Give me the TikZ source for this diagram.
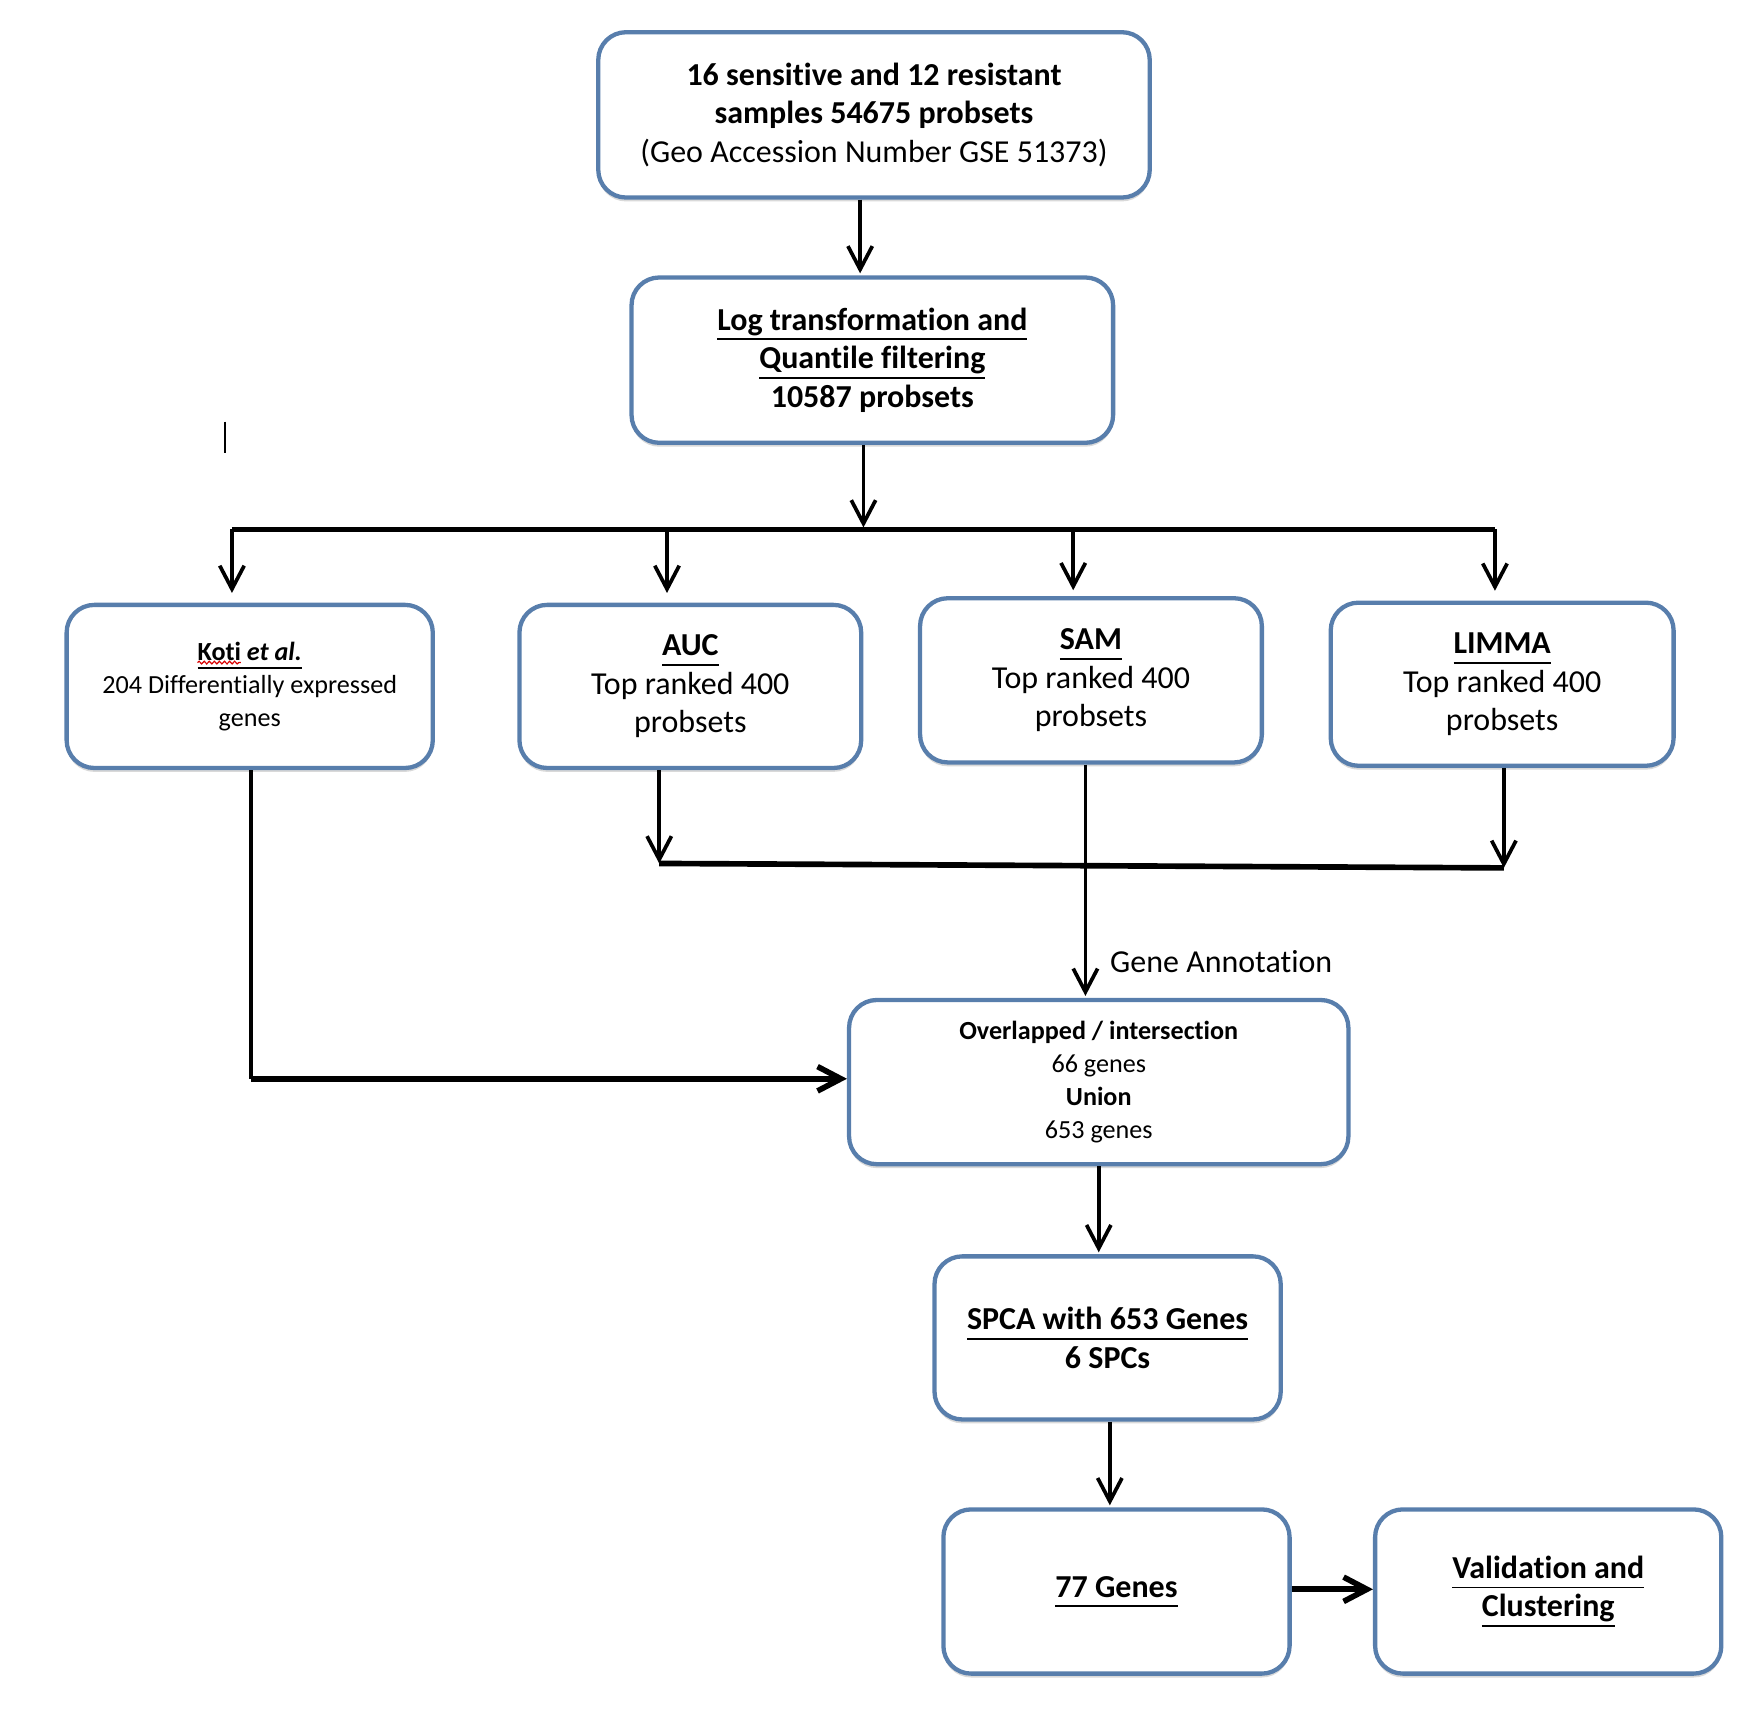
\documentclass[tikz,border=0pt]{standalone}
\usepackage{fontspec}
\setmainfont[Ligatures=NoCommon]{Carlito}
\usetikzlibrary{arrows.meta,shadows,decorations.pathmorphing}
\definecolor{boxblue}{RGB}{88,126,172}
\newcommand\bigf{\fontsize{16.4}{19.7}\selectfont\lineskiplimit=-50pt\relax}
\newcommand\smallf{\fontsize{13.4}{16.8}\selectfont\lineskiplimit=-50pt\relax}
\newcommand\ulx[1]{\leavevmode\setbox0=\hbox{#1}\rlap{\vrule width\wd0 height -0.25em depth 0.31em}\box0}
\begin{document}
\begin{tikzpicture}[x=0.02cm,y=-0.02cm,
  box/.style={draw=boxblue, line width=2.2pt, rounded corners=0.5cm, fill=white,
    align=center, inner sep=0pt, font=\bigf,
    drop shadow={shadow xshift=0pt, shadow yshift=-2pt, opacity=0.25, fill=black!60}},
  wbox/.style={box, minimum width=6.2cm, minimum height=2.94cm},
  conn/.style={draw=black, line width=1.9pt},
  arr/.style={conn, -{Straight Barb[length=0.42cm,width=0.44cm]}, shorten >=1pt},
  bus/.style={draw=black, line width=2.9pt},
  barr/.style={bus, -{Straight Barb[length=0.42cm,width=0.44cm]}},
  lbl/.style={font=\bigf, inner sep=0pt}]
\useasboundingbox (0,0) rectangle (1566,1547.1);

% boxes
\node[box, minimum width=9.94cm, minimum height=2.98cm] (top) at (787.5,103.5)
  {\textbf{16 sensitive and 12 resistant}\\\textbf{samples 54675 probsets}\\(Geo Accession Number GSE 51373)};
\node[box, minimum width=8.68cm, minimum height=2.98cm] (log) at (786,324.5)
  {\textbf{\ulx{Log transformation and}}\\\textbf{\ulx{Quantile filtering}}\\\textbf{10587 probsets}};
\node[wbox, minimum width=6.6cm, font=\smallf] (koti) at (225,618.5)
  {\ulx{\textbf{Koti \textit{et al.}}}\\204 Differentially expressed\\genes};
\node[wbox, minimum width=6.16cm] (auc) at (622,618.5)
  {\textbf{\ulx{AUC}}\\Top ranked 400\\probsets};
\node[wbox, minimum width=6.16cm, minimum height=2.96cm] (sam) at (983,613)
  {\textbf{\ulx{SAM}}\\Top ranked 400\\probsets};
\node[wbox, minimum width=6.18cm] (limma) at (1353.5,616.5)
  {\textbf{\ulx{LIMMA}}\\Top ranked 400\\probsets};
\node[box, minimum width=9.0cm, minimum height=2.96cm, font=\smallf] (overlap) at (990,975)
  {\textbf{Overlapped / intersection}\\66 genes\\\textbf{Union}\\653 genes};
\node[box, minimum width=6.24cm, minimum height=2.94cm] (spca) at (998,1205.5)
  {\textbf{\ulx{SPCA with 653 Genes}}\\\textbf{6 SPCs}};
\node[box, minimum width=6.24cm, minimum height=2.96cm] (g77) at (1006,1434)
  {\textbf{\ulx{77 Genes}}};
\node[box, minimum width=6.24cm, minimum height=2.96cm] (valid) at (1395,1434)
  {\textbf{\ulx{Validation and}}\\\textbf{\ulx{Clustering}}};

% helper coordinates
\coordinate (c1) at (775,0);
\coordinate (busM) at (778,477);
\coordinate (busL) at (209,477);
\coordinate (busR) at (1347,477);
\coordinate (d2) at (601,477);
\coordinate (d3) at (967,477);
\coordinate (j1) at (594,778);
\coordinate (j2) at (1355,782);
\coordinate (s1) at (978,0);
\coordinate (k1) at (226,972);
\coordinate (o1) at (990,0);
\coordinate (p1) at (1000,0);
\coordinate (h1) at (0,1432);

% connectors
\draw[arr] (top.south -| c1) -- (log.north -| c1);
\draw[arr] (log.south -| busM) -- (busM);
\draw[bus] (busL) -- (busR);
\draw[arr] (busL) -- ([yshift=4pt]koti.north -| busL);
\draw[arr] (d2) -- ([yshift=4pt]auc.north -| d2);
\draw[arr] (d3) -- ([yshift=2pt]sam.north -| d3);
\draw[arr] (busR) -- ([yshift=4pt]limma.north -| busR);
\draw[arr, shorten >=0pt] (auc.south -| j1) -- (j1);
\draw[arr, shorten >=0pt] (limma.south -| j2) -- (j2);
\draw[bus] (j1) -- (j2);
\draw[arr] (sam.south -| s1) -- (overlap.north -| s1);
\node[lbl, anchor=west] (ga) at (1000,866) {Gene Annotation};
\draw[conn] (koti.south -| k1) -- (k1);
\draw[barr] (k1) -- (overlap.west |- k1);
\draw[arr] (overlap.south -| o1) -- (spca.north -| o1);
\draw[arr] (spca.south -| p1) -- (g77.north -| p1);
\draw[barr] (g77.east |- h1) -- (valid.west |- h1);

% spell-check squiggle and stray cursor mark
\draw[red!85!black, line width=0.6pt, decorate,
  decoration={snake, amplitude=0.7pt, segment length=2.6pt}] (178,597) -- (217,597);
\draw[line width=1.1pt] (203,380) -- (203,408);
\end{tikzpicture}
\end{document}
